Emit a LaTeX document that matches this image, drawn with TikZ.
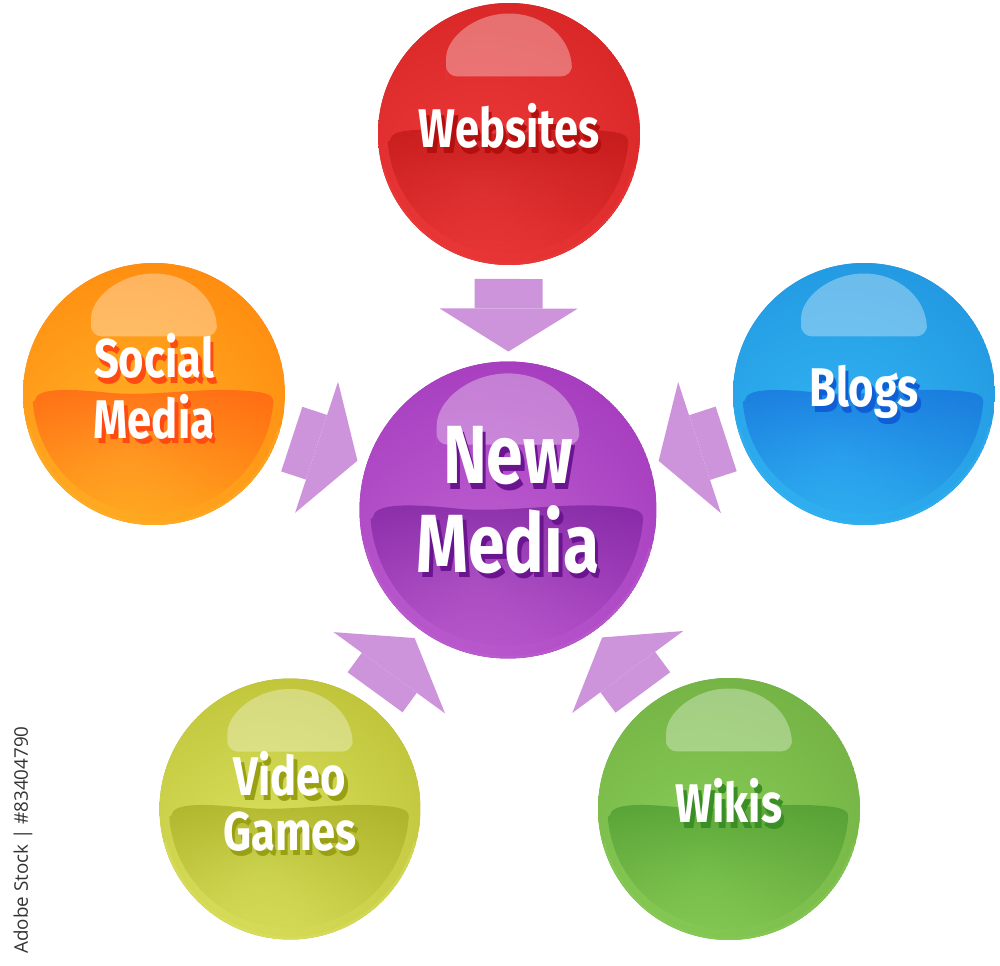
\documentclass[tikz,border=0pt]{standalone}
\usepackage{fontspec}
\usepackage{xcolor}
\usetikzlibrary{arrows.meta,
	fadings,
	backgrounds}
\newfontfamily\labelfont[FakeStretch=0.8]{Fira Sans}
\newfontfamily\markfont{Open Sans}
\definecolor{redmid}{HTML}{D01E1E}
\definecolor{redlight}{HTML}{EE3C3C}
\definecolor{reddark}{HTML}{B30F0F}
\definecolor{orangemid}{HTML}{FF7A05}
\definecolor{orangelight}{HTML}{FFB428}
\definecolor{orangedark}{HTML}{FF4A12}
\definecolor{bluemid}{HTML}{1B8CD8}
\definecolor{bluelight}{HTML}{33B6F5}
\definecolor{bluedark}{HTML}{0F5ED6}
\definecolor{purplemid}{HTML}{9A2CB6}
\definecolor{purplelight}{HTML}{C062D2}
\definecolor{purpledark}{HTML}{6A1490}
\definecolor{olivemid}{HTML}{B2B628}
\definecolor{olivelight}{HTML}{DDE462}
\definecolor{olivedark}{HTML}{99A014}
\definecolor{greenmid}{HTML}{6AA63C}
\definecolor{greenlight}{HTML}{8ACF58}
\definecolor{greendark}{HTML}{3B8D25}
\definecolor{flowc}{HTML}{CD93DB}
% white letters over a darker copy of themselves
\newcommand\dropshadow[2]{\leavevmode\rlap{\smash{\kern0.07cm\raisebox{-0.11cm}{\color{#1}\begin{tabular}{@{}c@{}}#2\end{tabular}}}}\begin{tabular}{@{}c@{}}#2\end{tabular}}
% glassy ball behind a node: #1 node, #2 radius, #3 mid, #4 light, #5 dark
\newcommand\glossy[5]{%
	\begin{scope}[shift={(#1.center)}, x=#2, y=-#2]
		\clip (0,0) circle (1);
		\fill[#3] (0,0) circle (1);
		\shade[inner color=#4, outer color=#3] (-0.2,0.45) circle (2.2);
		\fill[#5, fill opacity=0.55, path fading=south] (-0.91,0.05) .. controls (-0.9,-0.05) and (-0.65,-0.04) .. (-0.35,-0.01) .. controls (-0.05,0.02) and (0.3,-0.04) .. (0.6,-0.03) .. controls (0.85,-0.02) and (0.91,0) .. (0.91,0.06) arc[start angle=4, end angle=176, radius=0.92] -- cycle;
		\fill[white, fill opacity=0.33] (-0.48,-0.5) arc[start angle=180, end angle=360, x radius=0.48, y radius=0.42] [rounded corners=6pt] -- (0.48,-0.44) -- (-0.48,-0.44) -- cycle;
		\draw[#4, line width=1.5pt, opacity=0.4] (15:0.99) arc[start angle=15, end angle=165, radius=0.99];
	\end{scope}}
\tikzstyle{ball}=[circle, inner sep=0pt, outer sep=0pt, text=white]
\tikzstyle{small}=[font=\labelfont\bfseries\fontsize{31pt}{31pt}\selectfont]
\tikzstyle{big}=[font=\labelfont\bfseries\fontsize{47pt}{40.5pt}\selectfont]
\tikzstyle{flow}=[draw=flowc, line width=1.36cm,
	-{Triangle[length=0.86cm, width=2.76cm, line width=0pt]},
	shorten <=0.28cm, shorten >=0.2cm]
\begin{document}
\begin{tikzpicture}[x=0.02cm, y=-0.02cm]
	\useasboundingbox (0,0) rectangle (1000,966);
	\node[ball, small, minimum size=5.24cm] (web) at (509,134) {\dropshadow{reddark}{Websites}};
	\node[ball, small, minimum size=5.24cm] (social) at (154,394) {\dropshadow{orangedark}{Social\tabularnewline Media}};
	\node[ball, small, minimum size=5.24cm] (blogs) at (864,394) {\dropshadow{bluedark}{Blogs}};
	\node[ball, big, minimum size=5.94cm] (new) at (508,510) {\dropshadow{purpledark}{New\tabularnewline Media}};
	\node[ball, small, minimum size=5.22cm] (games) at (290,809) {\dropshadow{olivedark}{Video\tabularnewline Games}};
	\node[ball, small, minimum size=5.24cm] (wikis) at (729,809) {\dropshadow{greendark}{Wikis}};
	\begin{scope}[on background layer]
		\glossy{web}{2.62cm}{redmid}{redlight}{reddark}
		\glossy{social}{2.62cm}{orangemid}{orangelight}{orangedark}
		\glossy{blogs}{2.62cm}{bluemid}{bluelight}{bluedark}
		\glossy{new}{2.97cm}{purplemid}{purplelight}{purpledark}
		\glossy{games}{2.61cm}{olivemid}{olivelight}{olivedark}
		\glossy{wikis}{2.62cm}{greenmid}{greenlight}{greendark}
	\end{scope}
	\foreach \src in {web,social,blogs,games,wikis}
		\draw[flow] (\src) -- (new);
	\node[rotate=90, text=black!80, font=\markfont\fontsize{10.7pt}{12pt}\selectfont] (stock) at (23,840) {Adobe Stock | \#83404790};
\end{tikzpicture}
\end{document}
